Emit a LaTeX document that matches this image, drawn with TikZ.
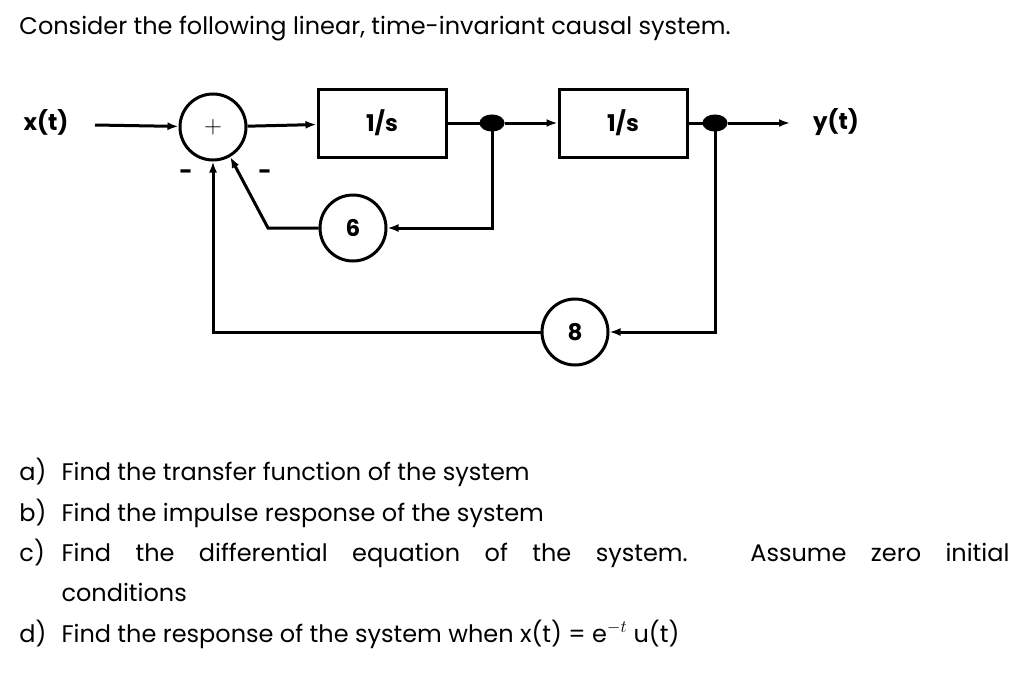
\documentclass[tikz,border=0pt]{standalone}
\usepackage{fontspec}
\setmainfont{Poppins}
\usetikzlibrary{arrows.meta,shapes.geometric}
\begin{document}
\begin{tikzpicture}[x=1pt,y=-1pt,line width=3pt,
  arr/.style={-{Latex[length=11pt,width=8pt]}},
  circ/.style={draw,circle,minimum size=66pt,inner sep=0pt,font=\fontsize{23}{27}\selectfont\bfseries},
  blk/.style={draw,minimum width=128pt,minimum height=68pt,font=\fontsize{23}{27}\selectfont\bfseries},
  lbl/.style={font=\fontsize{23}{27}\selectfont\bfseries},
  dotn/.style={draw,fill,ellipse,minimum width=22pt,minimum height=14pt,inner sep=0pt},
  txt/.style={anchor=base west,font=\fontsize{24}{40}\selectfont,inner sep=0pt}]
\useasboundingbox (0,0) rectangle (1024,696);
\node[txt] (title) at (18,34) {Consider the following linear, time-invariant causal system.};
\node[lbl] (x) at (46,122) {x(t)};
\coordinate (xs) at (95,125);
\node[circ,font=\fontsize{30}{30}\selectfont] (sum) at (213,127) {$+$};
\node[blk] (b1) at (382,123) {1/s};
\node[blk] (b2) at (623,123) {1/s};
\node[dotn] (d1) at (492,123) {};
\node[dotn] (d2) at (715,123) {};
\node[lbl] (y) at (836,122) {y(t)};
\coordinate (ye) at (790,123);
\node[circ] (g6) at (353,228) {6};
\node[circ] (g8) at (575,332) {8};
\node[lbl] at (186,175) {-};
\node[lbl] at (265,175) {-};
\draw[arr] (xs) -- (sum);
\draw[arr] (sum) -- (b1);
\draw (b1) -- (d1);
\draw[arr] (d1) -- (b2);
\draw (b2) -- (d2);
\draw[arr] (d2) -- (ye);
\draw[arr] (d1.center) |- (g6);
\draw[arr] (g6.west) -- (268,228) -- (sum.300);
\draw[arr] (d2.center) |- (g8);
\draw[arr] (g8.west) -| (sum.south);
\node[txt] at (18,480) {a)};
\node[txt] at (60,480) {Find the transfer function of the system};
\node[txt] at (18,521) {b)};
\node[txt] at (60,521) {Find the impulse response of the system};
\node[txt] at (18,561) {c)};
\node[txt,anchor=north west,text width=948pt,align=justify] at (60,542) {Find the differential equation of the system. Assume zero initial\linebreak conditions};
\node[txt] at (18,642) {d)};
\node[txt] at (60,642) {Find the response of the system when x(t) = e$^{-t}$ u(t)};
\end{tikzpicture}
\end{document}
